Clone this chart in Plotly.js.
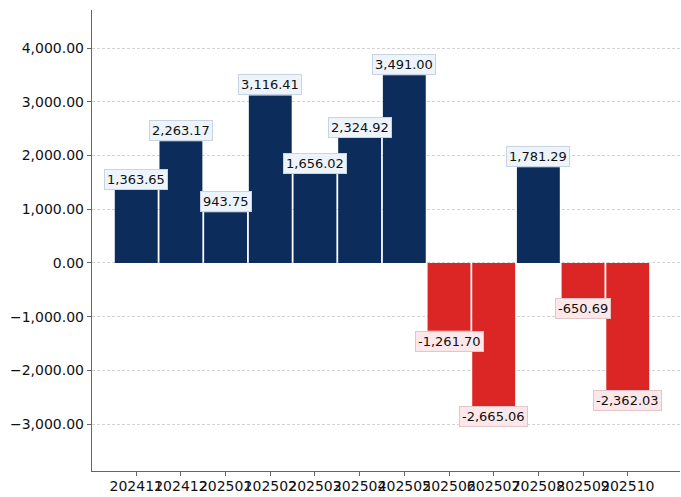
<!DOCTYPE html>
<html><head><meta charset="utf-8">
<script src="https://cdn.plot.ly/plotly-3.0.1.min.js"></script>
<style>html,body{margin:0;padding:0;background:#fff}#chart{width:681px;height:497px}</style>
</head><body><div id="chart"></div>
<script>
const categories = ["202411","202412","202501","202502","202503","202504","202505","202506","202507","202508","202509","202510"];
const values = [1363.65, 2263.17, 943.75, 3116.41, 1656.02, 2324.92, 3491.00, -1261.70, -2665.06, 1781.29, -650.69, -2362.03];

const posColor = "#0c2d5c", negColor = "#dc2626";
const fmt = v => v.toLocaleString("en-US",{minimumFractionDigits:2,maximumFractionDigits:2});

const annotations = values.map((v,i)=>({
  x: i, y: v, xref:"x", yref:"y",
  text: fmt(v), showarrow:false,
  yanchor: v>=0 ? "bottom" : "top", xanchor:"center",
  font:{family:"DejaVu Sans", size:13, color:"#111"},
  bgcolor: v>=0 ? "#eef4fb" : "#fde7e9",
  bordercolor: v>=0 ? "#c8d4e3" : "#e3c6ca",
  borderwidth:1, borderpad:2
}));

const trace = {
  type:"bar",
  x: categories.map((c,i)=>i),
  y: values,
  width: 0.96,
  marker:{color: values.map(v=>v>=0?posColor:negColor)},
  hoverinfo:"none"
};

const layout = {
  width:681, height:497,
  margin:{l:92, r:1, t:10, b:26},
  paper_bgcolor:"#fff", plot_bgcolor:"#fff",
  showlegend:false,
  font:{family:"DejaVu Sans", size:14, color:"#111"},
  xaxis:{
    range:[-0.99, 12.17],
    tickmode:"array", tickvals: categories.map((c,i)=>i), ticktext: categories,
    tickangle:0, automargin:false, ticklabelstandoff:-2,
    showgrid:false, zeroline:false,
    showline:true, linecolor:"#666", linewidth:1.2,
    ticks:"outside", ticklen:4, tickcolor:"#666",
    tickfont:{family:"DejaVu Sans", size:14, color:"#111"}
  },
  yaxis:{
    range:[-3870, 4707], automargin:false,
    tickmode:"array", tickvals:[-3000,-2000,-1000,0,1000,2000,3000,4000],
    tickformat:",.2f",
    showgrid:true, gridcolor:"#c8c8c8", griddash:"3px,2px", gridwidth:0.8,
    zeroline:false,
    showline:true, linecolor:"#666", linewidth:1.2,
    ticks:"outside", ticklen:4, tickcolor:"#666",
    tickfont:{family:"DejaVu Sans", size:14, color:"#111"}
  },
  annotations: annotations
};

Plotly.newPlot("chart",[trace],layout,{displayModeBar:false,staticPlot:true});
</script></body></html>
